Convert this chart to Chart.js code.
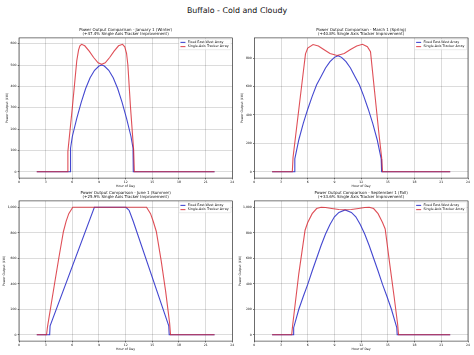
<!DOCTYPE html>
<html>
<head>
<meta charset="utf-8">
<script src="https://cdn.jsdelivr.net/npm/chart.js@4.4.1/dist/chart.umd.min.js"></script>
<style>
html,body{margin:0;padding:0;background:#fff;}
#wrap{position:relative;width:474px;height:355px;overflow:hidden;background:#fff;}
canvas{position:absolute;left:0;top:0;}
#title{position:absolute;left:0;top:6.5px;width:474px;text-align:center;font-family:"DejaVu Sans";font-size:7.9px;line-height:8px;color:#111;}
</style>
</head>
<body>
<div id="wrap">
<div id="title">Buffalo - Cold and Cloudy</div>
<canvas id="c1" width="474" height="355"></canvas>
<canvas id="c2" width="474" height="355"></canvas>
<canvas id="c3" width="474" height="355"></canvas>
<canvas id="c4" width="474" height="355"></canvas>
</div>
<script>
// ---------- data (hour of day, kW) ----------
const hourTicks = [0, 3, 6, 9, 12, 15, 18, 21, 24];
const winterTicks = [0, 100, 200, 300, 400, 500, 600];
const springTicks = [0, 200, 400, 600, 800];
const summerTicks = [0, 200, 400, 600, 800, 1000];
const fallTicks = [0, 200, 400, 600, 800, 1000];

const seriesNames = ["Fixed East-West Array", "Single-Axis Tracker Array"];

const janFixedHours = [2, 5.77, 5.8, 6.0, 6.5, 7.0, 7.5, 8.0, 8.5, 9.0, 9.3, 9.6, 10.1, 10.6, 11.1, 11.6, 12.1, 12.6, 12.83, 12.86, 22];
const janFixedKW    = [0, 0, 110, 165, 250, 325, 390, 440, 475, 495, 500, 495, 475, 440, 390, 325, 250, 165, 110, 0, 0];
const janTrackHours = [2, 5.42, 5.5, 6.0, 6.5, 6.7, 6.85, 7.05, 7.4, 7.9, 8.4, 8.9, 9.3, 9.7, 10.2, 10.7, 11.2, 11.65, 11.9, 12.1, 12.25, 12.55, 12.9, 12.98, 22];
const janTrackKW    = [0, 0, 95, 300, 520, 570, 590, 597, 590, 565, 535, 510, 503, 510, 535, 565, 590, 597, 585, 555, 500, 300, 100, 0, 0];

const marFixedHours = [2, 4.5, 4.55, 5.0, 5.5, 6.0, 6.5, 7.0, 7.5, 8.0, 8.5, 9.0, 9.4, 9.8, 10.3, 10.8, 11.3, 11.8, 12.3, 12.8, 13.3, 13.8, 14.25, 14.3, 22];
const marFixedKW    = [0, 0, 90, 225, 340, 440, 530, 612, 670, 730, 775, 805, 817, 805, 775, 730, 670, 612, 530, 440, 340, 225, 90, 0, 0];
const marTrackHours = [2, 4.27, 4.35, 5.0, 5.5, 5.75, 6.0, 6.6, 7.2, 7.8, 8.5, 9.3, 10.1, 10.8, 11.5, 12.15, 12.7, 13.05, 13.5, 14.0, 14.3, 14.4, 22];
const marTrackKW    = [0, 0, 100, 440, 700, 830, 870, 895, 885, 860, 832, 818, 832, 860, 885, 897, 880, 845, 570, 265, 100, 0, 0];

const junFixedHours = [2, 3.45, 3.5, 8.48, 12.04, 12.4, 12.85, 16.85, 16.9, 22];
const junFixedKW    = [0, 0, 70, 1000, 1000, 975, 890, 70, 0, 0];
const junTrackHours = [2, 3.1, 3.2, 4.0, 4.5, 5.0, 5.3, 5.6, 6.05, 14.35, 14.8, 15.1, 15.45, 16.0, 16.5, 16.95, 17.05, 22];
const junTrackKW    = [0, 0, 60, 400, 610, 810, 890, 950, 1000, 1000, 950, 890, 810, 580, 340, 90, 0, 0];

const sepFixedHours = [2, 4.38, 4.42, 5.0, 5.5, 6.0, 6.5, 7.0, 7.5, 8.0, 8.5, 9.0, 9.5, 10.2, 10.9, 11.4, 11.9, 12.4, 12.9, 13.4, 13.9, 14.4, 14.9, 15.4, 16.0, 16.05, 22];
const sepFixedKW    = [0, 0, 55, 200, 300, 395, 500, 600, 700, 790, 865, 925, 960, 979, 960, 925, 865, 790, 700, 600, 500, 395, 300, 200, 55, 0, 0];
const sepTrackHours = [2, 4.2, 4.3, 5.0, 5.7, 6.0, 6.5, 7.0, 7.5, 8.0, 8.7, 9.5, 10.2, 10.9, 11.7, 12.4, 12.9, 13.4, 13.9, 14.4, 14.7, 15.2, 15.7, 16.1, 16.2, 22];
const sepTrackKW    = [0, 0, 70, 480, 820, 880, 950, 990, 1000, 998, 990, 982, 980, 982, 990, 998, 1000, 990, 950, 880, 830, 560, 300, 80, 0, 0];

// ---------- drawing ----------
const FONT = '"DejaVu Sans", sans-serif';
const BLUE = 'rgba(35,40,200,0.85)';
const RED = 'rgba(215,35,45,0.8)';
const HX = 9.6;

const decor = {
  id: 'decor',
  afterDraw(chart, args, opts) {
    const ctx = chart.ctx, a = chart.chartArea;
    ctx.save();
    ctx.strokeStyle = '#222';
    ctx.lineWidth = 0.6;
    ctx.strokeRect(a.left, a.top, a.right - a.left, a.bottom - a.top);
    // subplot title
    ctx.fillStyle = '#111';
    ctx.font = '4px ' + FONT;
    ctx.textAlign = 'center';
    ctx.textBaseline = 'middle';
    const cx = (a.left + a.right) / 2;
    ctx.fillText(opts.lines[0], cx, a.top - 8.2);
    ctx.fillText(opts.lines[1], cx, a.top - 3.6);
    // legend
    ctx.font = '3.3px ' + FONT;
    const tw = Math.max(...seriesNames.map(s => ctx.measureText(s).width));
    const w = 9 + tw + 2.3, h = 10.6;
    const right = a.right - 1.3, top = a.top + 1.2, left = right - w;
    ctx.beginPath();
    if (ctx.roundRect) ctx.roundRect(left, top, w, h, 0.8); else ctx.rect(left, top, w, h);
    ctx.fillStyle = 'rgba(255,255,255,0.8)';
    ctx.fill();
    ctx.strokeStyle = '#cfcfcf';
    ctx.lineWidth = 0.4;
    ctx.stroke();
    const colors = [BLUE, RED];
    const rows = [top + 3.3, top + 7.5];
    ctx.textAlign = 'left';
    for (let i = 0; i < 2; i++) {
      ctx.strokeStyle = colors[i];
      ctx.lineWidth = 1.1;
      ctx.beginPath();
      ctx.moveTo(left + 1.7, rows[i]);
      ctx.lineTo(left + 6.7, rows[i]);
      ctx.stroke();
      ctx.fillStyle = '#111';
      ctx.fillText(seriesNames[i], left + 9, rows[i]);
    }
    ctx.restore();
  }
};

function pts(xs, ys) { return xs.map((x, i) => ({x: x, y: ys[i]})); }

function makeChart(id, area, wy, lines, fixedH, fixedK, trackH, trackK, yTicks, yMin, yMax) {
  const tickFont = {family: FONT, size: 3.1};
  const titleFont = {family: FONT, size: 3.2};
  const gridOpts = {color: 'rgba(0,0,0,0.2)', lineWidth: 0.7, tickColor: '#222', tickLength: 1.3, tickWidth: 0.6};
  new Chart(document.getElementById(id), {
    type: 'line',
    data: {
      datasets: [
        {label: seriesNames[0], data: pts(fixedH, fixedK), borderColor: BLUE, borderWidth: 1.1, pointRadius: 0, tension: 0, fill: false, order: 1},
        {label: seriesNames[1], data: pts(trackH, trackK), borderColor: RED, borderWidth: 1.1, pointRadius: 0, tension: 0, fill: false, order: 0}
      ]
    },
    options: {
      responsive: false,
      animation: false,
      devicePixelRatio: 1,
      events: [],
      layout: {padding: {left: area.l - wy, right: 474 - area.r, top: area.t, bottom: 355 - area.b - HX}},
      plugins: {legend: {display: false}, tooltip: {enabled: false}, title: {display: false}, decor: {lines: lines}},
      scales: {
        x: {
          type: 'linear', min: 0, max: 24,
          afterBuildTicks: s => { s.ticks = hourTicks.map(v => ({value: v})); },
          afterFit: s => { s.height = HX; },
          ticks: {font: tickFont, color: '#111', padding: 1.2, maxRotation: 0, autoSkip: false},
          grid: gridOpts,
          border: {display: false},
          title: {display: true, text: 'Hour of Day', font: titleFont, color: '#111', padding: 0}
        },
        y: {
          type: 'linear', min: yMin, max: yMax,
          afterBuildTicks: s => { s.ticks = yTicks.map(v => ({value: v})); },
          afterFit: s => { s.width = wy; },
          ticks: {font: tickFont, color: '#111', padding: 1.2, autoSkip: false},
          grid: gridOpts,
          border: {display: false},
          title: {display: true, text: 'Power Output (kW)', font: titleFont, color: '#111', padding: 0}
        }
      }
    },
    plugins: [decor]
  });
}

makeChart('c1', {l: 19, r: 232.3, t: 37.9, b: 178.1}, 14.2,
  ['Power Output Comparison - January 1 (Winter)', '(+47.4% Single Axis Tracker Improvement)'],
  janFixedHours, janFixedKW, janTrackHours, janTrackKW, winterTicks, -30, 627);
makeChart('c2', {l: 254.3, r: 468, t: 37.9, b: 178.1}, 14.5,
  ['Power Output Comparison - March 1 (Spring)', '(+40.8% Single Axis Tracker Improvement)'],
  marFixedHours, marFixedKW, marTrackHours, marTrackKW, springTicks, -45, 942);
makeChart('c3', {l: 19, r: 232.3, t: 200.9, b: 341.1}, 16.6,
  ['Power Output Comparison - June 1 (Summer)', '(+25.9% Single Axis Tracker Improvement)'],
  junFixedHours, junFixedKW, junTrackHours, junTrackKW, summerTicks, -50, 1050);
makeChart('c4', {l: 254.3, r: 468, t: 200.9, b: 341.1}, 16.5,
  ['Power Output Comparison - September 1 (Fall)', '(+33.6% Single Axis Tracker Improvement)'],
  sepFixedHours, sepFixedKW, sepTrackHours, sepTrackKW, fallTicks, -50, 1050);
</script>
</body>
</html>
